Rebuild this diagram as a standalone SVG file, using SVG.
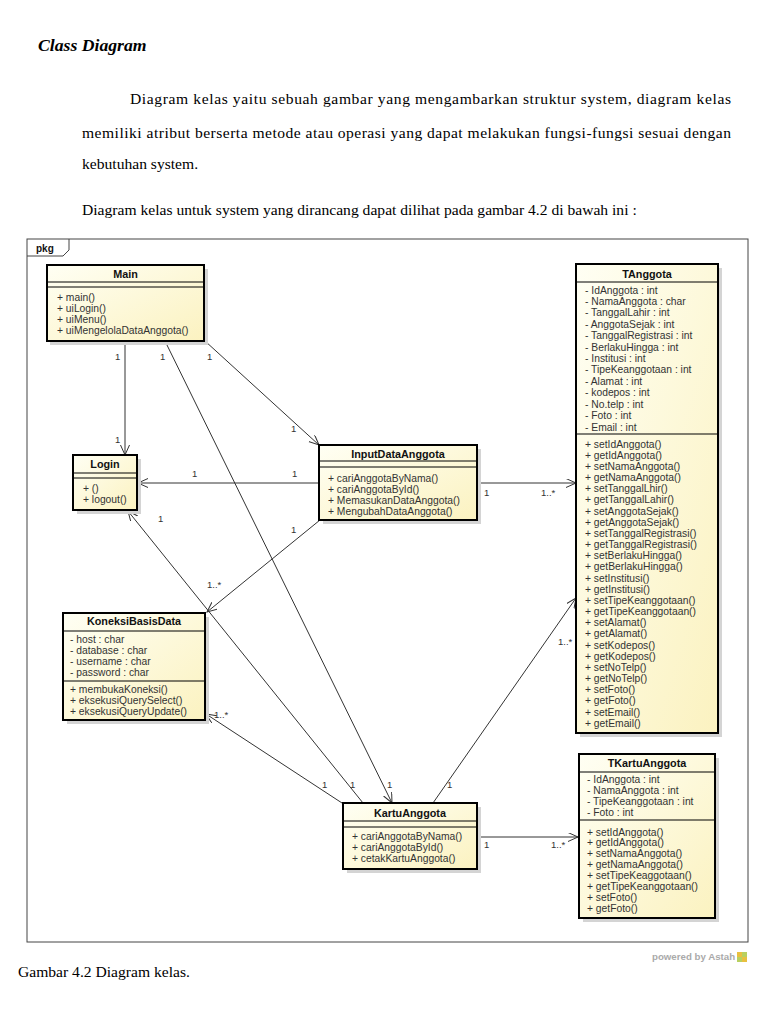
<svg xmlns="http://www.w3.org/2000/svg" width="768" height="1024" viewBox="0 0 768 1024">
<defs>
<linearGradient id="cls" x1="0" y1="0" x2="1" y2="1">
<stop offset="0" stop-color="#fffff4"/>
<stop offset="1" stop-color="#fbf2c0"/>
</linearGradient>
<marker id="arr" markerUnits="userSpaceOnUse" markerWidth="12" markerHeight="10" refX="10" refY="4.5" orient="auto">
<path d="M0,0 L10,4.5 L0,9" fill="none" stroke="#333" stroke-width="1"/>
</marker>
</defs>
<style>
.doc{font-family:"Liberation Serif","Times New Roman",serif;font-size:15.6px;fill:#000}
.box{fill:url(#cls);stroke:#000;stroke-width:2}
.sh{fill:#d4d4d4}
.div{stroke:#000;stroke-width:1}
.hd{font-family:"Liberation Sans",Arial,sans-serif;font-size:10.8px;font-weight:bold;fill:#111;text-anchor:middle}
.t{font-family:"Liberation Sans",Arial,sans-serif;font-size:10.3px;fill:#333}
.lbl{font-family:"Liberation Sans",Arial,sans-serif;font-size:9.5px;fill:#333}
.ln{stroke:#333;stroke-width:1;fill:none}
</style>
<rect width="768" height="1024" fill="#fff"/>
<text x="38" y="51" class="doc" style="font-size:17.7px;font-weight:bold;font-style:italic">Class Diagram</text>
<text x="130" y="104" class="doc" textLength="601" lengthAdjust="spacing">Diagram kelas yaitu sebuah gambar yang mengambarkan struktur system, diagram kelas</text>
<text x="82" y="138" class="doc" textLength="649" lengthAdjust="spacing">memiliki atribut berserta metode atau operasi yang dapat melakukan fungsi-fungsi sesuai dengan</text>
<text x="82" y="169" class="doc">kebutuhan system.</text>
<text x="82" y="215" class="doc">Diagram kelas untuk system yang dirancang dapat dilihat pada gambar 4.2 di bawah ini :</text>
<text x="18" y="977" class="doc">Gambar 4.2 Diagram kelas.</text>

<g id="frame">
<rect x="27" y="239" width="721" height="703" fill="none" stroke="#444" stroke-width="1"/>
<path d="M27,256 L63,256 L69,250 L69,239" fill="none" stroke="#444" stroke-width="1"/>
<text x="36" y="252" font-family="Liberation Sans,Arial,sans-serif" font-size="10" font-weight="bold" fill="#111">pkg</text>
</g>

<g id="connectors">
<line class="ln" x1="125" y1="341" x2="125" y2="455" marker-end="url(#arr)"/>
<line class="ln" x1="165" y1="341" x2="392" y2="803" marker-end="url(#arr)"/>
<line class="ln" x1="205" y1="341" x2="319" y2="445" marker-end="url(#arr)"/>
<line class="ln" x1="319" y1="483" x2="138" y2="483" marker-end="url(#arr)"/>
<line class="ln" x1="477" y1="483" x2="576" y2="483" marker-end="url(#arr)"/>
<line class="ln" x1="320" y1="520" x2="207" y2="612" marker-end="url(#arr)"/>
<line class="ln" x1="363" y1="803" x2="128" y2="511" marker-end="url(#arr)"/>
<line class="ln" x1="342" y1="803" x2="206" y2="714" marker-end="url(#arr)"/>
<line class="ln" x1="433" y1="803" x2="576" y2="598" marker-end="url(#arr)"/>
<line class="ln" x1="477" y1="837" x2="578" y2="837" marker-end="url(#arr)"/>
<text class="lbl" x="115" y="360">1</text>
<text class="lbl" x="115" y="443">1</text>
<text class="lbl" x="160" y="360">1</text>
<text class="lbl" x="207" y="360">1</text>
<text class="lbl" x="291" y="432">1</text>
<text class="lbl" x="192" y="477">1</text>
<text class="lbl" x="292" y="477">1</text>
<text class="lbl" x="484" y="496">1</text>
<text class="lbl" x="541" y="496">1..*</text>
<text class="lbl" x="291" y="533">1</text>
<text class="lbl" x="207" y="588">1..*</text>
<text class="lbl" x="158" y="522">1</text>
<text class="lbl" x="214" y="718">1..*</text>
<text class="lbl" x="322" y="788">1</text>
<text class="lbl" x="350" y="788">1</text>
<text class="lbl" x="387" y="788">1</text>
<text class="lbl" x="447" y="788">1</text>
<text class="lbl" x="558" y="645">1..*</text>
<text class="lbl" x="484" y="848">1</text>
<text class="lbl" x="551" y="848">1..*</text>
</g>

<g id="Main">
<rect class="sh" x="50" y="269" width="158" height="76"/>
<rect class="box" x="47" y="265" width="157" height="76"/>
<line class="div" x1="47" y1="282" x2="204" y2="282"/>
<line class="div" x1="47" y1="287" x2="204" y2="287"/>
<text class="hd" x="125.5" y="278">Main</text>
<text class="t" x="57" y="301">+ main()</text>
<text class="t" x="57" y="312">+ uiLogin()</text>
<text class="t" x="57" y="323">+ uiMenu()</text>
<text class="t" x="57" y="334">+ uiMengelolaDataAnggota()</text>
</g>

<g id="Login">
<rect class="sh" x="77" y="459" width="64" height="55"/>
<rect class="box" x="73" y="455" width="64" height="55"/>
<line class="div" x1="73" y1="473" x2="137" y2="473"/>
<line class="div" x1="73" y1="478" x2="137" y2="478"/>
<text class="hd" x="105" y="468">Login</text>
<text class="t" x="83" y="492">+ ()</text>
<text class="t" x="83" y="503">+ logout()</text>
</g>

<g id="InputDataAnggota">
<rect class="sh" x="323" y="449" width="158" height="75"/>
<rect class="box" x="319" y="445" width="158" height="75"/>
<line class="div" x1="319" y1="461" x2="477" y2="461"/>
<line class="div" x1="319" y1="467" x2="477" y2="467"/>
<text class="hd" x="398" y="458">InputDataAnggota</text>
<text class="t" x="328" y="481.5">+ cariAnggotaByNama()</text>
<text class="t" x="328" y="492.5">+ cariAnggotaById()</text>
<text class="t" x="328" y="503.5">+ MemasukanDataAnggota()</text>
<text class="t" x="328" y="514.5">+ MengubahDataAnggota()</text>
</g>

<g id="KoneksiBasisData">
<rect class="sh" x="67" y="617" width="142" height="107"/>
<rect class="box" x="63" y="613" width="142" height="107"/>
<line class="div" x1="63" y1="631" x2="205" y2="631"/>
<line class="div" x1="63" y1="681" x2="205" y2="681"/>
<text class="hd" x="134" y="625">KoneksiBasisData</text>
<text class="t" x="70" y="643">- host : char</text>
<text class="t" x="70" y="654">- database : char</text>
<text class="t" x="70" y="665">- username : char</text>
<text class="t" x="70" y="676">- password : char</text>
<text class="t" x="70" y="693">+ membukaKoneksi()</text>
<text class="t" x="70" y="704">+ eksekusiQuerySelect()</text>
<text class="t" x="70" y="715">+ eksekusiQueryUpdate()</text>
</g>

<g id="KartuAnggota">
<rect class="sh" x="347" y="807" width="134" height="66"/>
<rect class="box" x="343" y="803" width="134" height="66"/>
<line class="div" x1="343" y1="821" x2="477" y2="821"/>
<line class="div" x1="343" y1="827" x2="477" y2="827"/>
<text class="hd" x="410" y="817">KartuAnggota</text>
<text class="t" x="352" y="840">+ cariAnggotaByNama()</text>
<text class="t" x="352" y="851">+ cariAnggotaById()</text>
<text class="t" x="352" y="862">+ cetakKartuAnggota()</text>
</g>

<g id="TAnggota">
<rect class="sh" x="580" y="268" width="142" height="469"/>
<rect class="box" x="576" y="264" width="142" height="469"/>
<line class="div" x1="576" y1="282" x2="718" y2="282"/>
<line class="div" x1="576" y1="434" x2="718" y2="434"/>
<text class="hd" x="647" y="278">TAnggota</text>
<text class="t" x="585" y="293.5">- IdAnggota : int</text>
<text class="t" x="585" y="304.9">- NamaAnggota : char</text>
<text class="t" x="585" y="316.3">- TanggalLahir : int</text>
<text class="t" x="585" y="327.8">- AnggotaSejak : int</text>
<text class="t" x="585" y="339.2">- TanggalRegistrasi : int</text>
<text class="t" x="585" y="350.6">- BerlakuHingga : int</text>
<text class="t" x="585" y="362">- Institusi : int</text>
<text class="t" x="585" y="373.4">- TipeKeanggotaan : int</text>
<text class="t" x="585" y="384.8">- Alamat : int</text>
<text class="t" x="585" y="396.3">- kodepos : int</text>
<text class="t" x="585" y="407.7">- No.telp : int</text>
<text class="t" x="585" y="419.1">- Foto : int</text>
<text class="t" x="585" y="430.5">- Email : int</text>
<text class="t" x="585" y="447.5">+ setIdAnggota()</text>
<text class="t" x="585" y="458.7">+ getIdAnggota()</text>
<text class="t" x="585" y="469.8">+ setNamaAnggota()</text>
<text class="t" x="585" y="481">+ getNamaAnggota()</text>
<text class="t" x="585" y="492.2">+ setTanggalLhir()</text>
<text class="t" x="585" y="503.3">+ getTanggalLahir()</text>
<text class="t" x="585" y="514.5">+ setAnggotaSejak()</text>
<text class="t" x="585" y="525.7">+ getAnggotaSejak()</text>
<text class="t" x="585" y="536.9">+ setTanggalRegistrasi()</text>
<text class="t" x="585" y="548">+ getTanggalRegistrasi()</text>
<text class="t" x="585" y="559.2">+ setBerlakuHingga()</text>
<text class="t" x="585" y="570.4">+ getBerlakuHingga()</text>
<text class="t" x="585" y="581.5">+ setInstitusi()</text>
<text class="t" x="585" y="592.7">+ getInstitusi()</text>
<text class="t" x="585" y="603.9">+ setTipeKeanggotaan()</text>
<text class="t" x="585" y="615">+ getTipeKeanggotaan()</text>
<text class="t" x="585" y="626.2">+ setAlamat()</text>
<text class="t" x="585" y="637.4">+ getAlamat()</text>
<text class="t" x="585" y="648.6">+ setKodepos()</text>
<text class="t" x="585" y="659.7">+ getKodepos()</text>
<text class="t" x="585" y="670.9">+ setNoTelp()</text>
<text class="t" x="585" y="682.1">+ getNoTelp()</text>
<text class="t" x="585" y="693.2">+ setFoto()</text>
<text class="t" x="585" y="704.4">+ getFoto()</text>
<text class="t" x="585" y="715.6">+ setEmail()</text>
<text class="t" x="585" y="726.8">+ getEmail()</text>
</g>

<g id="TKartuAnggota">
<rect class="sh" x="583" y="758" width="136" height="164"/>
<rect class="box" x="579" y="754" width="136" height="164"/>
<line class="div" x1="579" y1="772" x2="715" y2="772"/>
<line class="div" x1="579" y1="820" x2="715" y2="820"/>
<text class="hd" x="647" y="767">TKartuAnggota</text>
<text class="t" x="587" y="782.5">- IdAnggota : int</text>
<text class="t" x="587" y="793.5">- NamaAnggota : int</text>
<text class="t" x="587" y="804.5">- TipeKeanggotaan : int</text>
<text class="t" x="587" y="815.5">- Foto : int</text>
<text class="t" x="587" y="835.5">+ setIdAnggota()</text>
<text class="t" x="587" y="846.4">+ getIdAnggota()</text>
<text class="t" x="587" y="857.2">+ setNamaAnggota()</text>
<text class="t" x="587" y="868.1">+ getNamaAnggota()</text>
<text class="t" x="587" y="878.9">+ setTipeKeaggotaan()</text>
<text class="t" x="587" y="889.8">+ getTipeKeanggotaan()</text>
<text class="t" x="587" y="900.7">+ setFoto()</text>
<text class="t" x="587" y="911.5">+ getFoto()</text>
</g>

<g id="logo">
<text x="652" y="960" font-family="Liberation Sans,Arial,sans-serif" font-size="9.7" font-weight="bold" fill="#aaa">powered by Astah</text>
<rect x="737" y="952" width="5" height="5" fill="#e8c040"/>
<rect x="742" y="952" width="5" height="5" fill="#b8d060"/>
<rect x="737" y="957" width="5" height="5" fill="#b8d060"/>
<rect x="742" y="957" width="5" height="5" fill="#e8c040"/>
</g>
</svg>
